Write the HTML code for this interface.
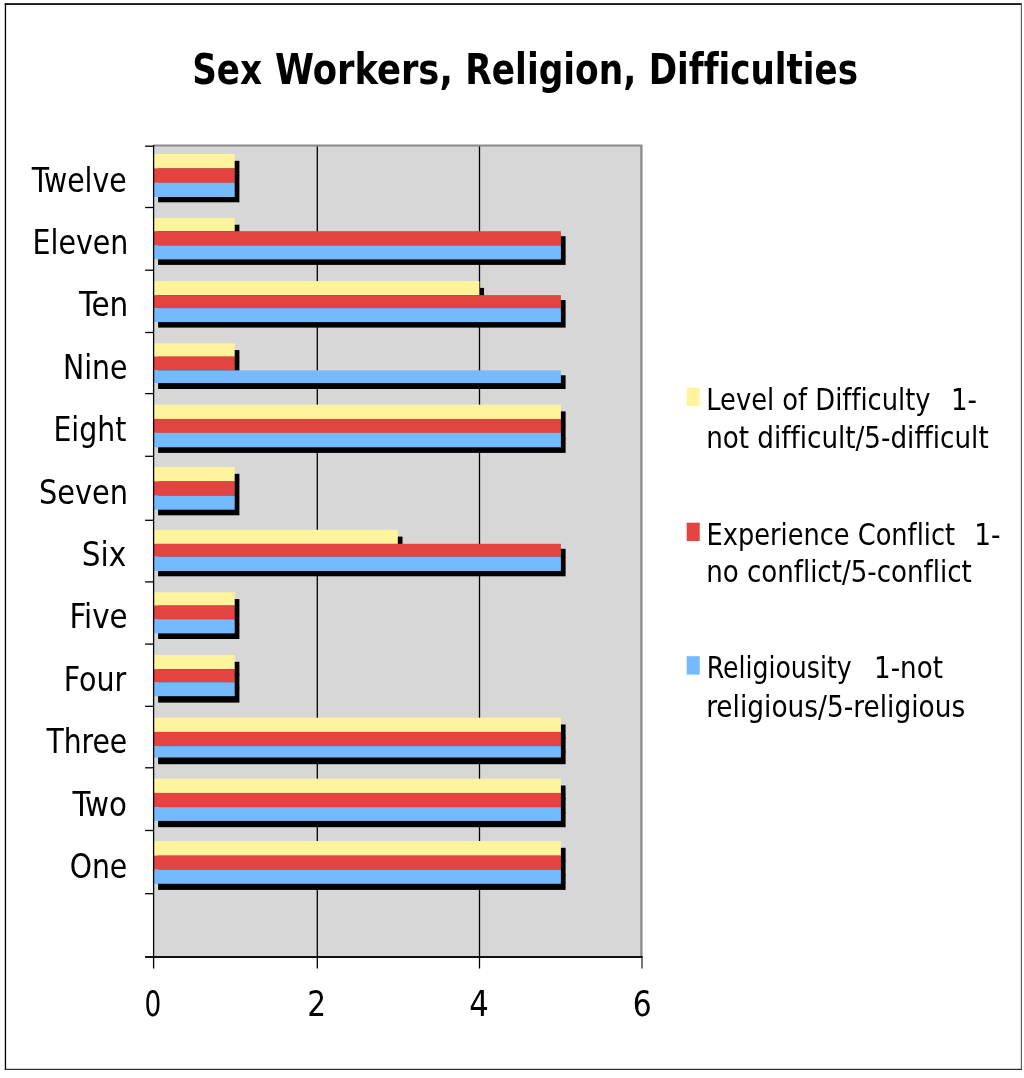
<!DOCTYPE html><html><head><meta charset="utf-8"><title>Sex Workers, Religion, Difficulties</title><style>html,body{margin:0;padding:0;background:#fff}</style></head><body><svg width="1024" height="1078" viewBox="0 0 1024 1078" style="display:block;font-variant-ligatures:none" font-family="DejaVu Sans, Liberation Sans, sans-serif" font-stretch="condensed" fill="#000">
<rect x="0" y="0" width="1024" height="1078" fill="#fff"/>
<rect x="4.8" y="3.2" width="1.3" height="1066.7" fill="#000"/>
<rect x="4.8" y="3.2" width="1017.2" height="1.7" fill="#000"/>
<rect x="1020.8" y="3.2" width="1.2" height="1066.7" fill="#666"/>
<rect x="4.8" y="1068.8" width="1017.2" height="1.1" fill="#1a1a1a"/>
<rect x="153.6" y="145.55" width="487.79999999999995" height="811.45" fill="#D7D7D7"/>
<line x1="317.30" y1="145.55" x2="317.30" y2="968.5" stroke="#000" stroke-width="1.3"/>
<line x1="479.50" y1="145.55" x2="479.50" y2="968.5" stroke="#000" stroke-width="1.3"/>
<line x1="153.6" y1="145.55" x2="642.4" y2="145.55" stroke="#8a8a8a" stroke-width="1.9"/>
<line x1="641.4" y1="145.55" x2="641.4" y2="957.0" stroke="#8a8a8a" stroke-width="2.3"/>
<rect x="158.1" y="160.80" width="81.30" height="12.90" fill="#000"/>
<rect x="158.1" y="173.40" width="81.30" height="14.70" fill="#000"/>
<rect x="158.1" y="187.80" width="81.30" height="14.50" fill="#000"/>
<rect x="158.1" y="224.70" width="81.30" height="12.00" fill="#000"/>
<rect x="158.1" y="236.20" width="407.50" height="14.70" fill="#000"/>
<rect x="158.1" y="250.40" width="407.50" height="14.50" fill="#000"/>
<rect x="158.1" y="287.90" width="325.95" height="12.70" fill="#000"/>
<rect x="158.1" y="300.10" width="407.50" height="13.50" fill="#000"/>
<rect x="158.1" y="313.10" width="407.50" height="14.50" fill="#000"/>
<rect x="158.1" y="350.10" width="81.30" height="12.40" fill="#000"/>
<rect x="158.1" y="361.60" width="81.30" height="14.60" fill="#000"/>
<rect x="158.1" y="375.30" width="407.50" height="13.70" fill="#000"/>
<rect x="158.1" y="411.40" width="407.50" height="13.10" fill="#000"/>
<rect x="158.1" y="423.90" width="407.50" height="14.50" fill="#000"/>
<rect x="158.1" y="437.80" width="407.50" height="15.10" fill="#000"/>
<rect x="158.1" y="473.80" width="81.30" height="13.20" fill="#000"/>
<rect x="158.1" y="486.40" width="81.30" height="14.80" fill="#000"/>
<rect x="158.1" y="500.60" width="81.30" height="14.70" fill="#000"/>
<rect x="158.1" y="536.60" width="244.40" height="12.50" fill="#000"/>
<rect x="158.1" y="548.80" width="407.50" height="13.10" fill="#000"/>
<rect x="158.1" y="561.60" width="407.50" height="14.70" fill="#000"/>
<rect x="158.1" y="599.10" width="81.30" height="12.00" fill="#000"/>
<rect x="158.1" y="610.50" width="81.30" height="14.30" fill="#000"/>
<rect x="158.1" y="624.20" width="81.30" height="14.80" fill="#000"/>
<rect x="158.1" y="661.80" width="81.30" height="13.80" fill="#000"/>
<rect x="158.1" y="674.20" width="81.30" height="14.40" fill="#000"/>
<rect x="158.1" y="687.20" width="81.30" height="15.40" fill="#000"/>
<rect x="158.1" y="724.50" width="407.50" height="14.10" fill="#000"/>
<rect x="158.1" y="736.90" width="407.50" height="15.90" fill="#000"/>
<rect x="158.1" y="751.10" width="407.50" height="13.10" fill="#000"/>
<rect x="158.1" y="785.50" width="407.50" height="13.70" fill="#000"/>
<rect x="158.1" y="797.90" width="407.50" height="15.50" fill="#000"/>
<rect x="158.1" y="812.10" width="407.50" height="15.10" fill="#000"/>
<rect x="158.1" y="847.80" width="407.50" height="13.90" fill="#000"/>
<rect x="158.1" y="860.60" width="407.50" height="15.10" fill="#000"/>
<rect x="158.1" y="874.60" width="407.50" height="15.30" fill="#000"/>
<rect x="153.60" y="154.00" width="81.10" height="14.55" fill="#FFF49B"/>
<rect x="153.60" y="168.40" width="81.10" height="14.55" fill="#E4443F"/>
<rect x="153.60" y="182.80" width="81.10" height="14.20" fill="#74BAFF"/>
<rect x="153.60" y="217.90" width="81.10" height="13.45" fill="#FFF49B"/>
<rect x="153.60" y="231.20" width="407.30" height="14.35" fill="#E4443F"/>
<rect x="153.60" y="245.40" width="407.30" height="14.00" fill="#74BAFF"/>
<rect x="153.60" y="281.10" width="325.75" height="14.15" fill="#FFF49B"/>
<rect x="153.60" y="295.10" width="407.30" height="13.15" fill="#E4443F"/>
<rect x="153.60" y="308.10" width="407.30" height="14.00" fill="#74BAFF"/>
<rect x="153.60" y="343.30" width="81.10" height="13.45" fill="#FFF49B"/>
<rect x="153.60" y="356.60" width="81.10" height="13.85" fill="#E4443F"/>
<rect x="153.60" y="370.30" width="407.30" height="12.80" fill="#74BAFF"/>
<rect x="153.60" y="404.60" width="407.30" height="14.45" fill="#FFF49B"/>
<rect x="153.60" y="418.90" width="407.30" height="14.05" fill="#E4443F"/>
<rect x="153.60" y="432.80" width="407.30" height="14.50" fill="#74BAFF"/>
<rect x="153.60" y="467.00" width="81.10" height="14.55" fill="#FFF49B"/>
<rect x="153.60" y="481.40" width="81.10" height="14.35" fill="#E4443F"/>
<rect x="153.60" y="495.60" width="81.10" height="14.10" fill="#74BAFF"/>
<rect x="153.60" y="529.80" width="244.20" height="14.15" fill="#FFF49B"/>
<rect x="153.60" y="543.80" width="407.30" height="12.95" fill="#E4443F"/>
<rect x="153.60" y="556.60" width="407.30" height="14.40" fill="#74BAFF"/>
<rect x="153.60" y="592.30" width="81.10" height="13.35" fill="#FFF49B"/>
<rect x="153.60" y="605.50" width="81.10" height="13.85" fill="#E4443F"/>
<rect x="153.60" y="619.20" width="81.10" height="14.20" fill="#74BAFF"/>
<rect x="153.60" y="655.00" width="81.10" height="14.35" fill="#FFF49B"/>
<rect x="153.60" y="669.20" width="81.10" height="13.15" fill="#E4443F"/>
<rect x="153.60" y="682.20" width="81.10" height="14.00" fill="#74BAFF"/>
<rect x="153.60" y="717.70" width="407.30" height="14.35" fill="#FFF49B"/>
<rect x="153.60" y="731.90" width="407.30" height="14.35" fill="#E4443F"/>
<rect x="153.60" y="746.10" width="407.30" height="11.40" fill="#74BAFF"/>
<rect x="153.60" y="778.70" width="407.30" height="14.35" fill="#FFF49B"/>
<rect x="153.60" y="792.90" width="407.30" height="14.35" fill="#E4443F"/>
<rect x="153.60" y="807.10" width="407.30" height="13.80" fill="#74BAFF"/>
<rect x="153.60" y="841.00" width="407.30" height="14.75" fill="#FFF49B"/>
<rect x="153.60" y="855.60" width="407.30" height="14.15" fill="#E4443F"/>
<rect x="153.60" y="869.60" width="407.30" height="14.20" fill="#74BAFF"/>
<line x1="153.6" y1="145.05" x2="153.6" y2="968.5" stroke="#000" stroke-width="1.3"/>
<line x1="145.1" y1="957.0" x2="642.6999999999999" y2="957.0" stroke="#111" stroke-width="1.8"/>
<line x1="145.1" y1="146.20" x2="153.6" y2="146.20" stroke="#000" stroke-width="1.3"/>
<line x1="145.1" y1="207.50" x2="153.6" y2="207.50" stroke="#000" stroke-width="1.3"/>
<line x1="145.1" y1="270.20" x2="153.6" y2="270.20" stroke="#000" stroke-width="1.3"/>
<line x1="145.1" y1="332.50" x2="153.6" y2="332.50" stroke="#000" stroke-width="1.3"/>
<line x1="145.1" y1="393.60" x2="153.6" y2="393.60" stroke="#000" stroke-width="1.3"/>
<line x1="145.1" y1="456.30" x2="153.6" y2="456.30" stroke="#000" stroke-width="1.3"/>
<line x1="145.1" y1="520.30" x2="153.6" y2="520.30" stroke="#000" stroke-width="1.3"/>
<line x1="145.1" y1="581.90" x2="153.6" y2="581.90" stroke="#000" stroke-width="1.3"/>
<line x1="145.1" y1="644.10" x2="153.6" y2="644.10" stroke="#000" stroke-width="1.3"/>
<line x1="145.1" y1="706.30" x2="153.6" y2="706.30" stroke="#000" stroke-width="1.3"/>
<line x1="145.1" y1="767.80" x2="153.6" y2="767.80" stroke="#000" stroke-width="1.3"/>
<line x1="145.1" y1="830.50" x2="153.6" y2="830.50" stroke="#000" stroke-width="1.3"/>
<line x1="145.1" y1="893.70" x2="153.6" y2="893.70" stroke="#000" stroke-width="1.3"/>
<line x1="642" y1="957.0" x2="642" y2="968.5" stroke="#2a2a2a" stroke-width="1.3"/>
<text x="31.84" y="191.70" textLength="94.92" lengthAdjust="spacingAndGlyphs" font-size="33.5">Twelve</text>
<text x="32.51" y="254.09" textLength="95.81" lengthAdjust="spacingAndGlyphs" font-size="33.5">Eleven</text>
<text x="78.98" y="316.48" textLength="49.35" lengthAdjust="spacingAndGlyphs" font-size="33.5">Ten</text>
<text x="62.92" y="378.87" textLength="64.57" lengthAdjust="spacingAndGlyphs" font-size="33.5">Nine</text>
<text x="53.41" y="441.26" textLength="73.03" lengthAdjust="spacingAndGlyphs" font-size="33.5">Eight</text>
<text x="38.99" y="503.65" textLength="89.09" lengthAdjust="spacingAndGlyphs" font-size="33.5">Seven</text>
<text x="81.84" y="566.04" textLength="44.50" lengthAdjust="spacingAndGlyphs" font-size="33.5">Six</text>
<text x="69.55" y="628.43" textLength="58.06" lengthAdjust="spacingAndGlyphs" font-size="33.5">Five</text>
<text x="63.81" y="690.82" textLength="62.52" lengthAdjust="spacingAndGlyphs" font-size="33.5">Four</text>
<text x="46.44" y="753.21" textLength="80.75" lengthAdjust="spacingAndGlyphs" font-size="33.5">Three</text>
<text x="72.47" y="815.60" textLength="54.45" lengthAdjust="spacingAndGlyphs" font-size="33.5">Two</text>
<text x="69.66" y="877.99" textLength="57.63" lengthAdjust="spacingAndGlyphs" font-size="33.5">One</text>
<text x="144.54" y="1015.70" textLength="16.76" lengthAdjust="spacingAndGlyphs" font-size="35.3">0</text>
<text x="307.34" y="1015.70" textLength="18.81" lengthAdjust="spacingAndGlyphs" font-size="35.3">2</text>
<text x="469.23" y="1015.70" textLength="19.53" lengthAdjust="spacingAndGlyphs" font-size="35.3">4</text>
<text x="632.83" y="1015.70" textLength="18.90" lengthAdjust="spacingAndGlyphs" font-size="35.3">6</text>
<text y="84.20" font-size="42.6" font-weight="bold"><tspan x="192.22" textLength="69.86" lengthAdjust="spacingAndGlyphs">Sex</tspan> <tspan x="275.08" textLength="177.75" lengthAdjust="spacingAndGlyphs">Workers,</tspan> <tspan x="465.31" textLength="170.93" lengthAdjust="spacingAndGlyphs">Religion,</tspan> <tspan x="648.72" textLength="209.35" lengthAdjust="spacingAndGlyphs">Difficulties</tspan></text>
<text y="409.70" font-size="30"><tspan x="706.19" textLength="224.40" lengthAdjust="spacingAndGlyphs">Level of Difficulty</tspan> <tspan x="950.97" textLength="26.02" lengthAdjust="spacingAndGlyphs">1-</tspan></text>
<text x="706.16" y="448.00" textLength="282.52" lengthAdjust="spacingAndGlyphs" font-size="30">not difficult/5-difficult</text>
<text y="544.70" font-size="30"><tspan x="706.60" textLength="248.46" lengthAdjust="spacingAndGlyphs">Experience Conflict</tspan> <tspan x="974.25" textLength="26.25" lengthAdjust="spacingAndGlyphs">1-</tspan></text>
<text x="706.17" y="582.10" textLength="265.56" lengthAdjust="spacingAndGlyphs" font-size="30">no conflict/5-conflict</text>
<text y="678.30" font-size="30"><tspan x="706.63" textLength="145.13" lengthAdjust="spacingAndGlyphs">Religiousity</tspan> <tspan x="874.06" textLength="68.84" lengthAdjust="spacingAndGlyphs">1-not</tspan></text>
<text x="706.14" y="716.80" textLength="259.08" lengthAdjust="spacingAndGlyphs" font-size="30">religious/5-religious</text>
<rect x="686.7" y="387.70" width="13" height="18.4" fill="#FFF49B"/>
<rect x="686.7" y="522.70" width="13" height="18.4" fill="#E4443F"/>
<rect x="686.7" y="656.20" width="13" height="18.4" fill="#74BAFF"/>
</svg></body></html>
